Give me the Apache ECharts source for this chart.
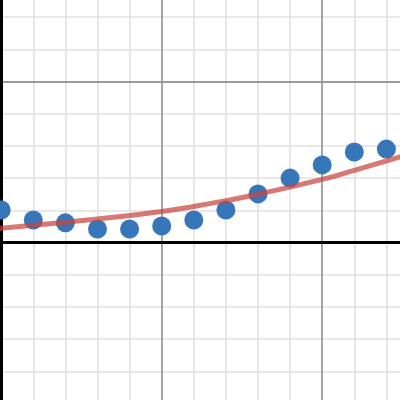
<!DOCTYPE html>
<html>
<head>
<meta charset="utf-8">
<script src="https://cdn.jsdelivr.net/npm/echarts@6/dist/echarts.min.js"></script>
<style>
html,body{margin:0;padding:0;background:#fff;}
#chart{width:400px;height:400px;}
</style>
</head>
<body>
<div id="chart"></div>
<script>
// Data points (blue)
const pointX = [0, 1, 2, 3, 4, 5, 6, 7, 8, 9, 10, 11, 12];
const pointY = [1.01, 0.70, 0.61, 0.42, 0.42, 0.51, 0.70, 1.01, 1.51, 2.00, 2.41, 2.81, 2.90];
// Fitted curve (red)
const curveX = [-0.1, 0, 2, 4, 5, 6, 7, 8, 10, 11, 12.5];
const curveY = [0.43, 0.44, 0.63, 0.84, 0.96, 1.12, 1.30, 1.50, 1.96, 2.24, 2.68];
// Grid line positions
const minorX = [1, 2, 3, 4, 6, 7, 8, 9, 11, 12];
const majorX = [5, 10];
const minorY = [-4, -3, -2, -1, 1, 2, 3, 4, 6, 7];
const majorY = [-5, 5];
// Visible window
const xRange = [-0.037, 12.424];
const yRange = [-4.891, 7.531];

const chart = echarts.init(document.getElementById('chart'));

function plainAxis(r) {
  return {
    type: 'value', min: r[0], max: r[1],
    axisLine: {show: false}, axisTick: {show: false}, axisLabel: {show: false},
    splitLine: {show: false}
  };
}
function gridSeries(xs, ys, color, width, z) {
  return {
    type: 'line', data: [], z: z, silent: true,
    markLine: {
      z: z,
      silent: true, symbol: 'none', animation: false,
      label: {show: false},
      emphasis: {disabled: true},
      lineStyle: {color: color, width: width, type: 'solid'},
      data: xs.map(v => ({xAxis: v})).concat(ys.map(v => ({yAxis: v})))
    }
  };
}

chart.setOption({
  animation: false,
  backgroundColor: '#ffffff',
  grid: {left: 0, right: 0, top: 0, bottom: 0, containLabel: false},
  xAxis: plainAxis(xRange),
  yAxis: plainAxis(yRange),
  series: [
    gridSeries(minorX, minorY, '#e0e0e0', 1.6, 1),
    gridSeries(majorX, majorY, '#9a9a9a', 1.8, 2),
    gridSeries([0], [0], '#000000', 3, 2),
    {
      type: 'scatter',
      data: pointX.map((x, i) => [x, pointY[i]]),
      symbolSize: 19,
      itemStyle: {color: 'rgb(55,118,184)', opacity: 1},
      z: 10
    },
    {
      type: 'line',
      data: curveX.map((x, i) => [x, curveY[i]]),
      smooth: true,
      showSymbol: false,
      lineStyle: {color: 'rgba(199,68,64,0.72)', width: 5},
      z: 11
    }
  ]
});
</script>
</body>
</html>
